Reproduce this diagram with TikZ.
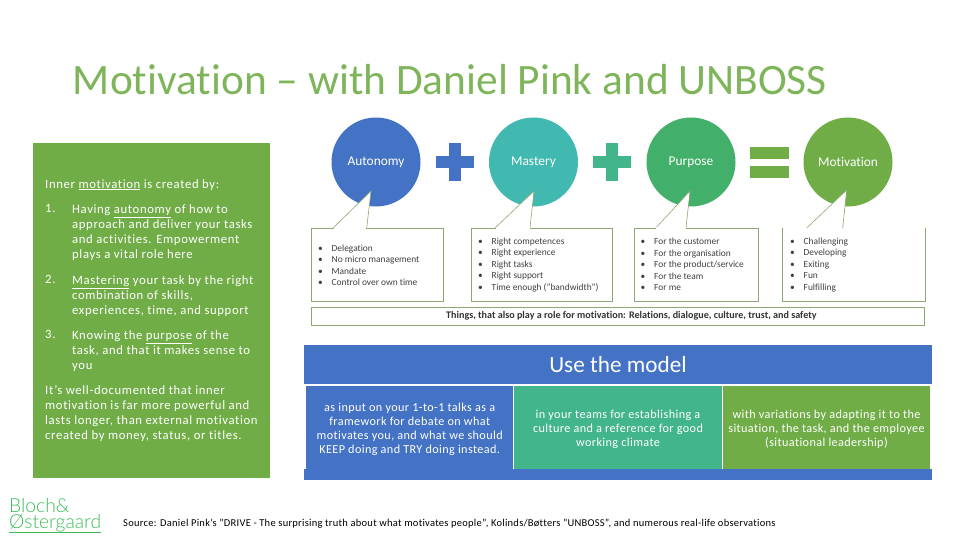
\documentclass[tikz,border=0pt]{standalone}
\usepackage{fontspec}
\setmainfont{Carlito}[Ligatures={TeX,NoCommon}]
\newfontfamily\logofont{Lato Light}
\definecolor{slidegreen}{HTML}{70AD47}
\definecolor{slideblue}{HTML}{4472C4}
\definecolor{slideteal}{HTML}{41B9B0}
\definecolor{slidemint}{HTML}{43B58B}
\definecolor{slidejade}{HTML}{42B06A}
\definecolor{boxline}{HTML}{8CA873}
\definecolor{logogreen}{HTML}{3DBB5A}
\newcommand{\bul}[1]{\makebox[13.5pt][l]{\textbullet}#1}
\tikzset{
  bigcircle/.style={circle,minimum size=89pt,inner sep=0pt,text=white,font=\fontsize{13.4}{15}\selectfont},
  listbox/.style={rectangle,draw=boxline,fill=white,line width=0.6pt,inner sep=0pt},
  listtext/.style={anchor=west,align=left,inner sep=0pt,text=black!75,font=\fontsize{9.4}{11.5}\selectfont},
  sidetext/.style={anchor=north west,align=left,inner sep=0pt,text=white,font=\fontsize{12.7}{15}\selectfont\addfontfeature{LetterSpace=5}},
  cellbox/.style={rectangle,inner sep=0pt,minimum width=207.5pt,minimum height=87pt,text=white,align=center,font=\fontsize{12.2}{14.2}\selectfont\addfontfeature{LetterSpace=3.2}},
  pointer/.style={draw=boxline,line width=0.6pt}
}
\begin{document}
\begin{tikzpicture}[x=1pt,y=-1pt]
\useasboundingbox (0,0) rectangle (960,540);

\node [inner sep=0pt,text=slidegreen!90,font=\fontsize{43.4}{50}\selectfont] (title) at (450,80) {Motivation – with Daniel Pink and UNBOSS};

\fill [slidegreen] (33,143) rectangle (270,478);
\node [sidetext] (intro) at (45,179) {Inner \underline{motivation} is created by:};
\node [sidetext] (numone) at (45,204.5) {1.};
\node [sidetext] (itemone) at (72,204.5) {Having \underline{autonomy} of how to\\approach and deliver your tasks\\and activities. Empowerment\\plays a vital role here};
\node [sidetext] (numtwo) at (45,275.5) {2.};
\node [sidetext] (itemtwo) at (72,275.5) {\underline{Mastering} your task by the right\\combination of skills,\\experiences, time, and support};
\node [sidetext] (numthree) at (45,330.5) {3.};
\node [sidetext] (itemthree) at (72,330.5) {Knowing the \underline{purpose} of the\\task, and that it makes sense to\\you};
\node [sidetext] (outro) at (45,385) {It’s well-documented that inner\\motivation is far more powerful and\\lasts longer, than external motivation\\created by money, status, or titles.};

\node [bigcircle,fill=slideblue] (autonomy) at (376,162) {Autonomy};
\node [bigcircle,fill=slideteal] (mastery) at (533.5,162) {Mastery};
\node [bigcircle,fill=slidejade] (purpose) at (691,162) {Purpose};
\node [bigcircle,fill=slidegreen] (motivation) at (848,162) {Motivation};

\fill [slideblue] (436,156) rectangle (474,168);
\fill [slideblue] (449,143) rectangle (461,181);
\fill [slidemint] (593,156) rectangle (631,168);
\fill [slidemint] (606,143) rectangle (618,181);
\fill [slidegreen] (750,147) rectangle (789,159);
\fill [slidegreen] (750,166) rectangle (789,178);

\node [listbox,minimum width=132pt,minimum height=73.5pt] (autonomybox) at (377.7,264.7) {};
\node [listbox,minimum width=141.7pt,minimum height=73.5pt] (masterybox) at (541.8,264.7) {};
\node [listbox,minimum width=123.7pt,minimum height=73.5pt] (purposebox) at (696.2,264.7) {};
\node [inner sep=0pt,fill=white,minimum width=142pt,minimum height=73pt] (motivationbox) at (853.7,264.5) {};
\draw [pointer] (motivationbox.north west) -- (motivationbox.south west) -- (motivationbox.south east) -- (motivationbox.north east);

\filldraw [pointer,fill=white] (333,228) -- (371,191) -- (366.7,228);
\filldraw [pointer,fill=white] (495,228) -- (534,191) -- (530,228);
\filldraw [pointer,fill=white] (655.7,228) -- (690,191) -- (686,228);
\filldraw [pointer,fill=white] (806.7,228) -- (846.7,190) -- (842.7,228);
\fill [white] (333.5,227.4) rectangle (366.2,228.8);
\fill [white] (495.5,227.4) rectangle (529.5,228.8);
\fill [white] (656.2,227.4) rectangle (685.5,228.8);

\node [listtext] (autonomylist) at (318,265.2) {\bul{Delegation}\\\bul{No micro management}\\\bul{Mandate}\\\bul{Control over own time}};
\node [listtext] (masterylist) at (478,264.7) {\bul{Right competences}\\\bul{Right experience}\\\bul{Right tasks}\\\bul{Right support}\\\bul{Time enough (”bandwidth”)}};
\node [listtext] (purposelist) at (640.5,264.7) {\bul{For the customer}\\\bul{For the organisation}\\\bul{For the product/service}\\\bul{For the team}\\\bul{For me}};
\node [listtext] (motivationlist) at (790,264.7) {\bul{Challenging}\\\bul{Developing}\\\bul{Exiting}\\\bul{Fun}\\\bul{Fulfilling}};

\node [listbox,minimum width=613.7pt,minimum height=18pt,text=black!80,font=\fontsize{10.1}{11}\selectfont\bfseries] (alsobox) at (617.8,316) {\hspace*{27pt}Things, that also play a role for motivation: Relations, dialogue, culture, trust, and safety};

\node [rectangle,fill=slideblue,inner sep=0pt,minimum width=628pt,minimum height=39pt,text=white,font=\fontsize{23.2}{26}\selectfont] (usemodel) at (618,364.5) {Use the model};
\node [cellbox,fill=slideblue] (cellone) at (409.7,429.5) {as input on your 1-to-1 talks as a\\framework for debate on what\\motivates you, and what we should\\KEEP doing and TRY doing instead.};
\node [cellbox,fill=slidemint] (celltwo) at (618,429.5) {in your teams for establishing a\\culture and a reference for good\\working climate};
\node [cellbox,fill=slidegreen] (cellthree) at (826.5,429.5) {with variations by adapting it to the\\situation, the task, and the employee\\(situational leadership)};
\fill [slideblue] (304,469) rectangle (932,480);

\node [anchor=south west,inner sep=0pt,align=left,text=logogreen,font=\fontsize{19.3}{15.5}\selectfont\logofont] (logo) at (9,532) {Bloch\&\\Østergaard};
\draw [logogreen,line width=0.7pt] (logo.south west) -- (logo.south east);

\node [anchor=west,inner sep=0pt,font=\fontsize{10.5}{13}\selectfont\addfontfeature{LetterSpace=2.5}] (source) at (123,523.5) {Source: Daniel Pink’s ”DRIVE - The surprising truth about what motivates people”, Kolinds/Bøtters ”UNBOSS”, and numerous real-life observations};
\end{tikzpicture}
\end{document}
